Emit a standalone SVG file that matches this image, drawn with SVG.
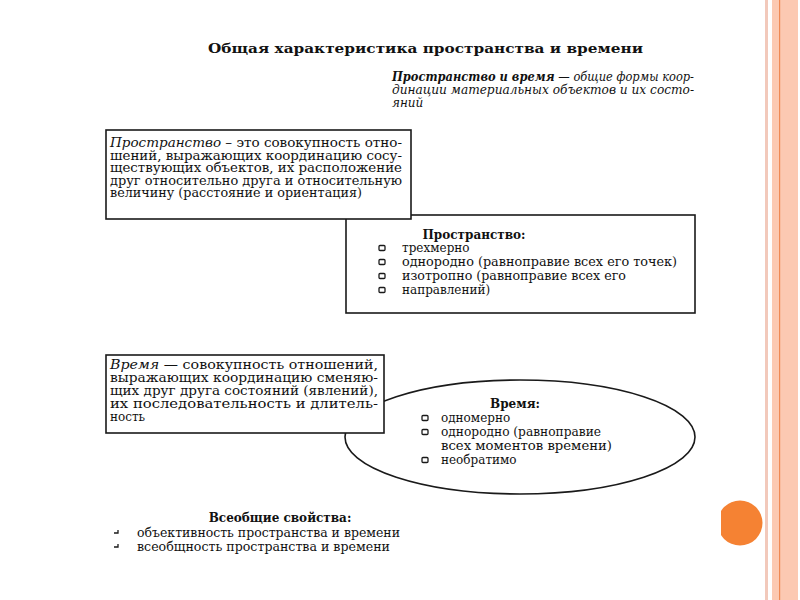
<svg xmlns="http://www.w3.org/2000/svg" width="800" height="600" viewBox="0 0 800 600">
<style>
text{font-family:"DejaVu Serif","Liberation Serif",serif;fill:#111;font-size:12px}
.b{font-weight:bold}
.i{font-style:italic}
.box{fill:#fff;stroke:#1a1a1a;stroke-width:1.6}
.bul{fill:#fff;stroke:#1a1a1a;stroke-width:1.3}
</style>
<defs>
<rect id="sq" class="bul" x="-3" y="-3.5" width="6" height="5" rx="1"/>
<clipPath id="cc"><rect x="721" y="490" width="60" height="70"/></clipPath>
</defs>
<rect width="800" height="600" fill="#fff"/>
<g id="decor">
<rect x="765" y="0" width="3" height="600" fill="#f2c9bb"/>
<rect x="772" y="0" width="26" height="600" fill="#fcc9b2"/>
<rect x="779" y="0" width="1.2" height="600" fill="#ef8a55"/>
<circle cx="740" cy="523" r="22.5" fill="#f58233" clip-path="url(#cc)"/>
</g>
<g id="title">
<text class="b" x="208" y="53" font-size="15" textLength="435" lengthAdjust="spacingAndGlyphs">Общая характеристика пространства и времени</text>
</g>
<g id="definition">
<text class="i" x="392" y="81" textLength="302" lengthAdjust="spacingAndGlyphs"><tspan class="b">Пространство и время</tspan> — общие формы коор-</text>
<text class="i" x="392" y="94" textLength="302" lengthAdjust="spacingAndGlyphs">динации материальных объектов и их состо-</text>
<text class="i" x="392" y="107">яний</text>
</g>
<g id="connectors">
<ellipse cx="520" cy="437" rx="175" ry="57" fill="#fff" stroke="#1a1a1a" stroke-width="1.6"/>
</g>
<g id="space-props">
<rect class="box" x="346" y="215" width="349" height="98"/>
<text class="b" x="474" y="239" text-anchor="middle">Пространство:</text>
<use href="#sq" x="382" y="249"/>
<use href="#sq" x="382" y="263"/>
<use href="#sq" x="382" y="277"/>
<use href="#sq" x="382" y="291"/>
<text x="402" y="252">трехмерно</text>
<text x="402" y="266" textLength="275" lengthAdjust="spacingAndGlyphs">однородно (равноправие всех его точек)</text>
<text x="402" y="280" textLength="224" lengthAdjust="spacingAndGlyphs">изотропно (равноправие всех его</text>
<text x="402" y="294">направлений)</text>
</g>
<g id="space-def">
<rect class="box" x="106" y="130" width="305" height="89"/>
<text x="110" y="147" textLength="292" lengthAdjust="spacingAndGlyphs"><tspan class="i">Пространство</tspan> – это совокупность отно-</text>
<text x="110" y="159.5" textLength="292" lengthAdjust="spacingAndGlyphs">шений, выражающих координацию сосу-</text>
<text x="110" y="172" textLength="292" lengthAdjust="spacingAndGlyphs">ществующих объектов, их расположение</text>
<text x="110" y="184.5" textLength="292" lengthAdjust="spacingAndGlyphs">друг относительно друга и относительную</text>
<text x="110" y="197" textLength="252" lengthAdjust="spacingAndGlyphs">величину (расстояние и ориентация)</text>
</g>
<g id="time-props">
<text class="b" x="515" y="408" text-anchor="middle">Время:</text>
<use href="#sq" x="425" y="419"/>
<use href="#sq" x="425" y="433"/>
<use href="#sq" x="425" y="461"/>
<text x="441" y="422">одномерно</text>
<text x="441" y="436" textLength="160" lengthAdjust="spacingAndGlyphs">однородно (равноправие</text>
<text x="441" y="450" textLength="171" lengthAdjust="spacingAndGlyphs">всех моментов времени)</text>
<text x="441" y="464">необратимо</text>
</g>
<g id="time-def">
<rect class="box" x="106" y="355" width="278" height="78"/>
<text x="110" y="369" textLength="268" lengthAdjust="spacingAndGlyphs"><tspan class="i">Время</tspan> — совокупность отношений,</text>
<text x="110" y="382" textLength="268" lengthAdjust="spacingAndGlyphs">выражающих координацию сменяю-</text>
<text x="110" y="395" textLength="268" lengthAdjust="spacingAndGlyphs">щих друг друга состояний (явлений),</text>
<text x="110" y="408" textLength="268" lengthAdjust="spacingAndGlyphs">их последовательность и длитель-</text>
<text x="110" y="421">ность</text>
</g>
<g id="universal">
<text class="b" x="280" y="522" text-anchor="middle">Всеобщие свойства:</text>
<path d="M114,533 h4 v-3 M114,547 h4 v-3" fill="none" stroke="#1a1a1a" stroke-width="1.3"/>
<text x="137" y="537" textLength="263" lengthAdjust="spacingAndGlyphs">объективность пространства и времени</text>
<text x="137" y="551" textLength="253" lengthAdjust="spacingAndGlyphs">всеобщность пространства и времени</text>
</g>
</svg>
